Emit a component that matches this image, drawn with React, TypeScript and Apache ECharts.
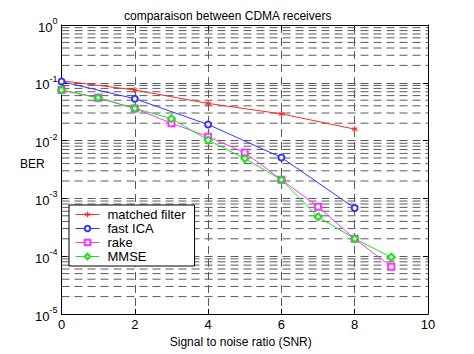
import React, { useEffect, useRef } from "react";
import * as echarts from "echarts";

const SNR_EVEN = [0, 2, 4, 6, 8];
const SNR_ALL = [0, 1, 2, 3, 4, 5, 6, 7, 8, 9];
const MATCHED_FILTER = [0.109, 0.075, 0.044, 0.029, 0.0158];
const FAST_ICA = [0.105, 0.053, 0.019, 0.0051, 0.00068];
const RAKE = [0.075, 0.055, 0.036, 0.020, 0.0117, 0.0062, 0.0021, 0.00072, 0.0002, 0.000066];
const MMSE = [0.075, 0.055, 0.036, 0.024, 0.0102, 0.0049, 0.0021, 0.00048, 0.0002, 0.000096];
const DECADES = [1e-5, 1e-4, 1e-3, 1e-2, 1e-1];
const MINOR_MULTIPLIERS = [2, 3, 4, 5, 6, 7, 8, 9];
const X_MIN = 0;
const X_MAX = 10;

const FONT = "'Liberation Sans', Arial, Helvetica, sans-serif";
const GRID_COLOR = "#5a5a5a";
const GRID_DASH = [8, 5];
const GRID_LINE = { color: GRID_COLOR, width: 1, type: GRID_DASH as any };

const ASTERISK =
  "path://M4,0H6V3.6L9.1,1.8L10,3.4L7,5L10,6.6L9.1,8.2L6,6.4V10H4V6.4L0.9,8.2L0,6.6L3,5L0,3.4L0.9,1.8L4,3.6Z";

export default function App() {
  const ref = useRef<HTMLDivElement>(null);
  useEffect(() => {
    if (!ref.current) return;
    const chart = echarts.init(ref.current, null, { renderer: "svg" });
    const minorValues: number[][] = [];
    DECADES.forEach((d) =>
      MINOR_MULTIPLIERS.forEach((m) => minorValues.push([X_MIN, d * m]))
    );
    const pairs = (xs: number[], ys: number[]) => xs.map((x, i) => [x, ys[i]]);
    const yLabel = (v: number) => {
      const e = Math.round(Math.log10(v));
      return `{b|10}{s|${e}}`;
    };
    chart.setOption({
      animation: false,
      backgroundColor: "#fff",
      textStyle: { fontFamily: FONT },
      title: {
        text: "comparaison between CDMA receivers",
        left: 119,
        top: 5,
        textStyle: { fontSize: 12, fontWeight: "normal", color: "#000", fontFamily: FONT },
      },
      graphic: [
        {
          type: "text",
          left: 20,
          top: 158,
          style: { text: "BER", fontSize: 12, fill: "#000", fontFamily: FONT },
        },
      ],
      legend: {
        orient: "vertical",
        left: 69,
        top: 205,
        backgroundColor: "#fff",
        borderColor: "#000",
        borderWidth: 1,
        borderRadius: 0,
        padding: [3, 9, 3, 6],
        itemGap: 1,
        itemWidth: 24,
        itemHeight: 7,
        lineStyle: { width: 1 },
        textStyle: { fontSize: 13, color: "#000", fontFamily: FONT, padding: [0, 0, 0, 3] },
        data: ["matched filter", "fast ICA", "rake", "MMSE"],
      },
      grid: { left: 61.5, right: 46, top: 25, bottom: 40, containLabel: false },
      xAxis: [
        {
          type: "value",
          min: X_MIN,
          max: X_MAX,
          interval: 2,
          name: "Signal to noise ratio (SNR)",
          nameLocation: "middle",
          nameGap: 19,
          nameTextStyle: { fontSize: 12, color: "#000", fontFamily: FONT, padding: [0, 0, 0, -8] },
          axisLine: { show: true, lineStyle: { color: "#000", width: 1 } },
          axisTick: { show: true, inside: true, length: 5, lineStyle: { color: "#000" } },
          axisLabel: { fontSize: 13, color: "#000", margin: 4, fontFamily: FONT },
          splitLine: { show: true, lineStyle: GRID_LINE },
        },
        {
          type: "value",
          position: "top",
          min: X_MIN,
          max: X_MAX,
          interval: 2,
          axisLine: { show: true, onZero: false, lineStyle: { color: "#000", width: 1 } },
          axisTick: { show: true, inside: true, length: 5, lineStyle: { color: "#000" } },
          axisLabel: { show: false },
          splitLine: { show: false },
        },
      ],
      yAxis: [
        {
          type: "log",
          logBase: 10,
          min: 1e-5,
          max: 1,
          axisLine: { show: true, onZero: false, lineStyle: { color: "#000", width: 1 } },
          axisTick: { show: true, inside: true, length: 5, lineStyle: { color: "#000" } },
          axisLabel: {
            margin: 4,
            color: "#000",
            formatter: yLabel,
            rich: {
              b: { fontSize: 13, color: "#000", fontFamily: FONT, verticalAlign: "bottom" },
              s: { fontSize: 9, color: "#000", fontFamily: FONT, verticalAlign: "bottom", padding: [0, 0, 8, 0] },
            },
          },
          splitLine: { show: true, lineStyle: GRID_LINE },
        },
        {
          type: "log",
          logBase: 10,
          min: 1e-5,
          max: 1,
          position: "right",
          axisLine: { show: true, onZero: false, lineStyle: { color: "#000", width: 1 } },
          axisTick: { show: true, inside: true, length: 5, lineStyle: { color: "#000" } },
          axisLabel: { show: false },
          splitLine: { show: false },
        },
      ],
      series: [
        {
          name: "gridlines",
          type: "custom",
          silent: true,
          z: 1,
          data: minorValues,
          encode: { x: 0, y: 1 },
          renderItem: (params: any, api: any) => {
            const v = api.value(1);
            const p1 = api.coord([X_MIN, v]);
            const p2 = api.coord([X_MAX, v]);
            return {
              type: "line",
              shape: { x1: p1[0], y1: p1[1], x2: p2[0], y2: p2[1] },
              style: { stroke: GRID_COLOR, lineWidth: 1, lineDash: GRID_DASH, fill: null },
            };
          },
        },
        {
          name: "matched filter",
          type: "line",
          data: pairs(SNR_EVEN, MATCHED_FILTER),
          color: "#ff2a2a",
          symbol: ASTERISK,
          symbolSize: 6,
          lineStyle: { width: 1 },
          itemStyle: { color: "#ff2a2a" },
          z: 5,
        },
        {
          name: "fast ICA",
          type: "line",
          data: pairs(SNR_EVEN, FAST_ICA),
          color: "#3333ff",
          symbol: "emptyCircle",
          symbolSize: 6,
          lineStyle: { width: 1 },
          itemStyle: { color: "#3333ff", borderWidth: 1 },
          z: 5,
        },
        {
          name: "rake",
          type: "line",
          data: pairs(SNR_ALL, RAKE),
          color: "#ff33ff",
          symbol: "emptyRect",
          symbolSize: 6,
          lineStyle: { width: 1 },
          itemStyle: { color: "#ff33ff", borderWidth: 1 },
          z: 5,
        },
        {
          name: "MMSE",
          type: "line",
          data: pairs(SNR_ALL, MMSE),
          color: "#22dd22",
          symbol: "emptyDiamond",
          symbolSize: 7,
          lineStyle: { width: 1 },
          itemStyle: { color: "#22dd22", borderWidth: 1 },
          z: 5,
        },
      ],
    });
    return () => chart.dispose();
  }, []);
  return (
    <div
      ref={ref}
      style={{ position: "fixed", left: 0, top: 0, width: 474, height: 354, background: "#fff" }}
    />
  );
}
